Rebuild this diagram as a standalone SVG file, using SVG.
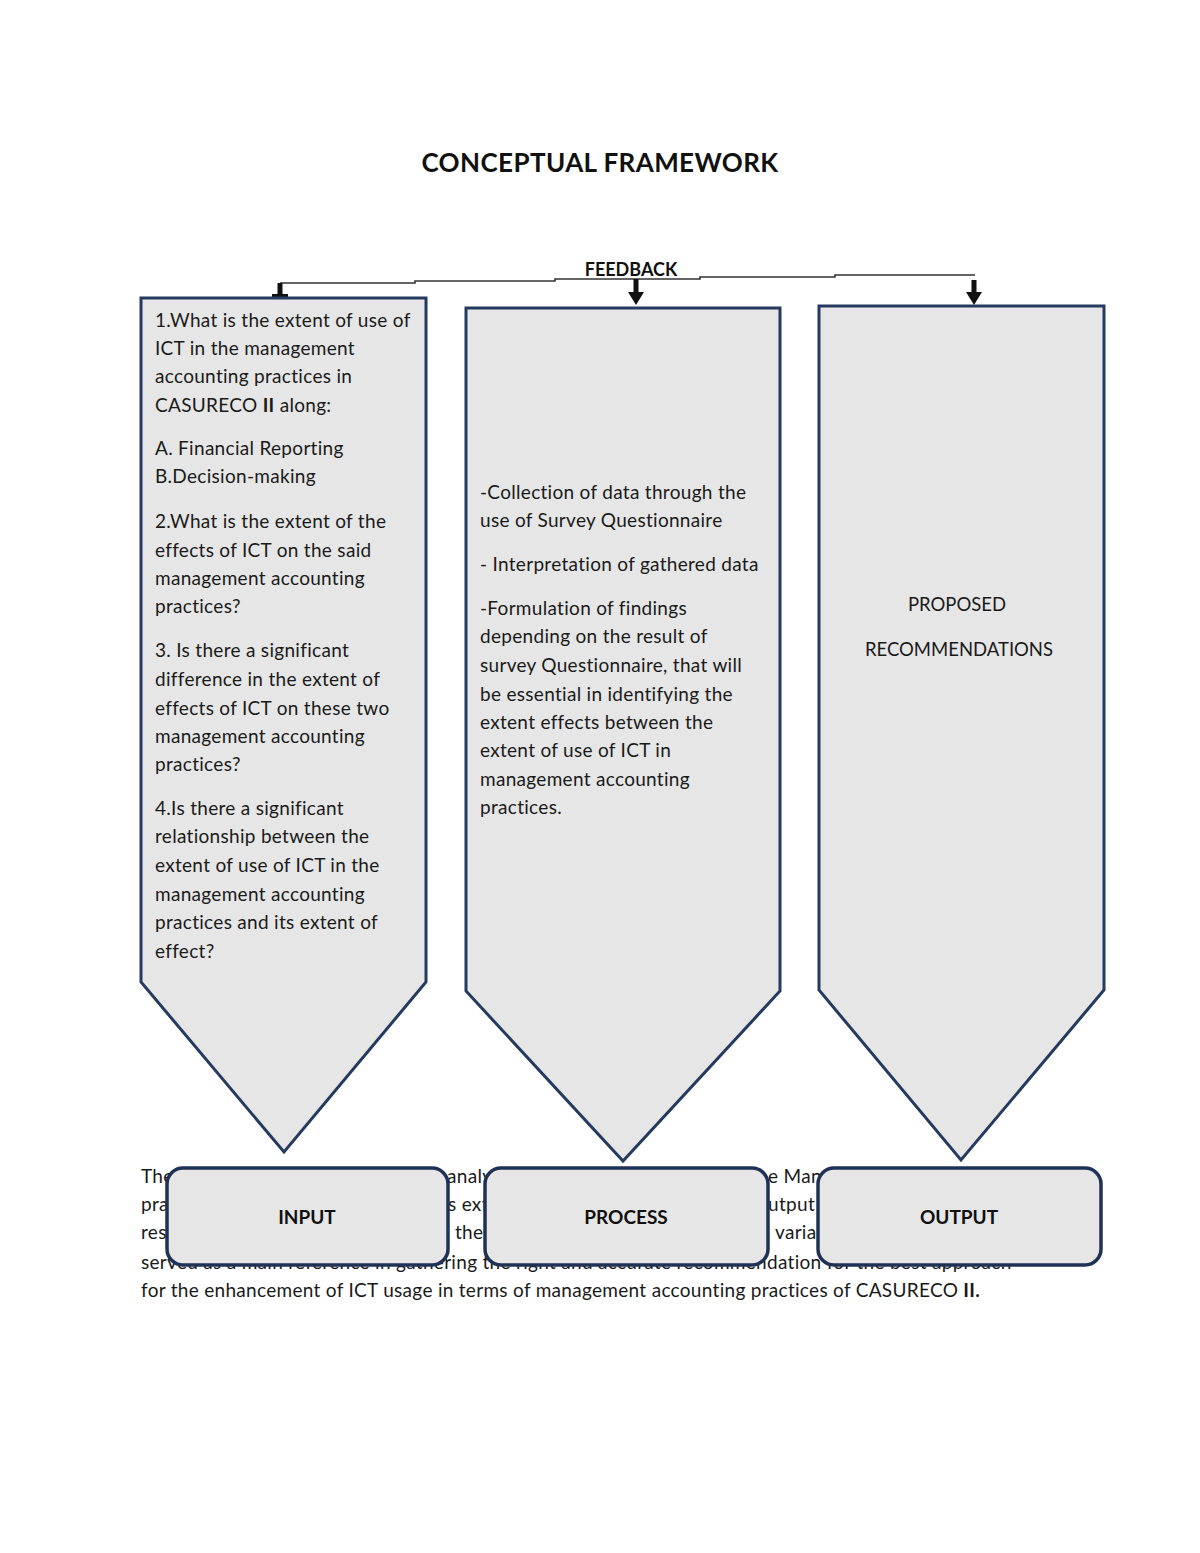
<svg xmlns="http://www.w3.org/2000/svg" width="1200" height="1553" viewBox="0 0 1200 1553">
<style>
.t{font-family:Lato,"Open Sans","Liberation Sans",sans-serif;font-size:19px;letter-spacing:0.3px;fill:#1a1a1a}
.o{font-family:Lato,"Open Sans","Liberation Sans",sans-serif;font-size:18.5px;fill:#1a1a1a;text-anchor:middle}
.b{font-weight:bold}
.shape{fill:#E6E6E6;stroke:#243A5E;stroke-width:3;stroke-linejoin:miter}
.rbox{fill:#E6E6E6;stroke:#1F3256;stroke-width:3.5}
.lbl{font-family:Lato,"Open Sans","Liberation Sans",sans-serif;font-size:19px;font-weight:bold;fill:#111;text-anchor:middle}
.fb{fill:none;stroke:#333;stroke-width:1.6}
</style>
<rect width="1200" height="1553" fill="#fff"/>
<text x="600" y="172" text-anchor="middle" style="font-family:Lato,'Open Sans','Liberation Sans',sans-serif;font-size:26px;letter-spacing:0.4px;font-weight:bold;fill:#111">CONCEPTUAL FRAMEWORK</text>

<g id="paragraph" class="t">
<text x="141" y="1183">The</text>
<text x="447" y="1183">analysis</text>
<text x="750" y="1183">the Management</text>
<text x="141" y="1211">practices</text>
<text x="436" y="1211">its extent</text>
<text x="757" y="1211">output</text>
<text x="141" y="1239">results</text>
<text x="455" y="1239">the</text>
<text x="775" y="1239">variables</text>
<text x="141" y="1269">served as a main reference in gathering the right and accurate recommendation for the best approach</text>
<text x="141" y="1297">for the enhancement of ICT usage in terms of management accounting practices of CASURECO <tspan class="b">II.</tspan></text>
</g>

<g id="connectors">
<polyline class="fb" points="280,283 415,283 415,281 555,281 555,279 700,279 700,277 835,277 835,275 975,275"/>
<text x="631" y="276" text-anchor="middle" style="font-family:Lato,'Open Sans','Liberation Sans',sans-serif;font-size:18px;font-weight:bold;fill:#111">FEEDBACK</text>
<rect x="277.5" y="283" width="5" height="13" fill="#111"/>
<rect x="272" y="294" width="16" height="3" fill="#111"/>
<rect x="633.5" y="279" width="5" height="14" fill="#111"/>
<polygon points="628,292 644,292 636,305" fill="#111"/>
<rect x="971.5" y="280" width="5" height="13" fill="#111"/>
<polygon points="966,292 982,292 974,305" fill="#111"/>
</g>

<g id="input-arrow">
<polygon class="shape" points="141,298 426,298 426,982 284,1152 141,982"/>
<g class="t">
<text x="155" y="327">1.What is the extent of use of</text>
<text x="155" y="355">ICT in the management</text>
<text x="155" y="383">accounting practices in</text>
<text x="155" y="412">CASURECO <tspan class="b">II</tspan> along:</text>
<text x="155" y="455">A. Financial Reporting</text>
<text x="155" y="483">B.Decision-making</text>
<text x="155" y="528">2.What is the extent of the</text>
<text x="155" y="557">effects of ICT on the said</text>
<text x="155" y="585">management accounting</text>
<text x="155" y="613">practices?</text>
<text x="155" y="657">3. Is there a significant</text>
<text x="155" y="686">difference in the extent of</text>
<text x="155" y="715">effects of ICT on these two</text>
<text x="155" y="743">management accounting</text>
<text x="155" y="771">practices?</text>
<text x="155" y="815">4.Is there a significant</text>
<text x="155" y="843">relationship between the</text>
<text x="155" y="872">extent of use of ICT in the</text>
<text x="155" y="901">management accounting</text>
<text x="155" y="929">practices and its extent of</text>
<text x="155" y="958">effect?</text>
</g>
</g>

<g id="process-arrow">
<polygon class="shape" points="466,308 780,308 780,991 623,1161 466,991"/>
<g class="t">
<text x="480" y="499">-Collection of data through the</text>
<text x="480" y="527">use of Survey Questionnaire</text>
<text x="480" y="571">- Interpretation of gathered data</text>
<text x="480" y="615">-Formulation of findings</text>
<text x="480" y="643">depending on the result of</text>
<text x="480" y="672">survey Questionnaire, that will</text>
<text x="480" y="701">be essential in identifying the</text>
<text x="480" y="729">extent effects between the</text>
<text x="480" y="757">extent of use of ICT in</text>
<text x="480" y="786">management accounting</text>
<text x="480" y="814">practices.</text>
</g>
</g>

<g id="output-arrow">
<polygon class="shape" points="819,306 1104,306 1104,990 961,1160 819,990"/>
<text class="o" x="957" y="611">PROPOSED</text>
<text class="o" x="959" y="656">RECOMMENDATIONS</text>
</g>

<g id="input-box">
<rect class="rbox" x="167" y="1168" width="281" height="97" rx="16"/>
<text class="lbl" x="307" y="1224">INPUT</text>
</g>
<g id="process-box">
<rect class="rbox" x="485" y="1168" width="283" height="97" rx="16"/>
<text class="lbl" x="626" y="1224">PROCESS</text>
</g>
<g id="output-box">
<rect class="rbox" x="818" y="1168" width="283" height="97" rx="16"/>
<text class="lbl" x="959" y="1224">OUTPUT</text>
</g>
</svg>
